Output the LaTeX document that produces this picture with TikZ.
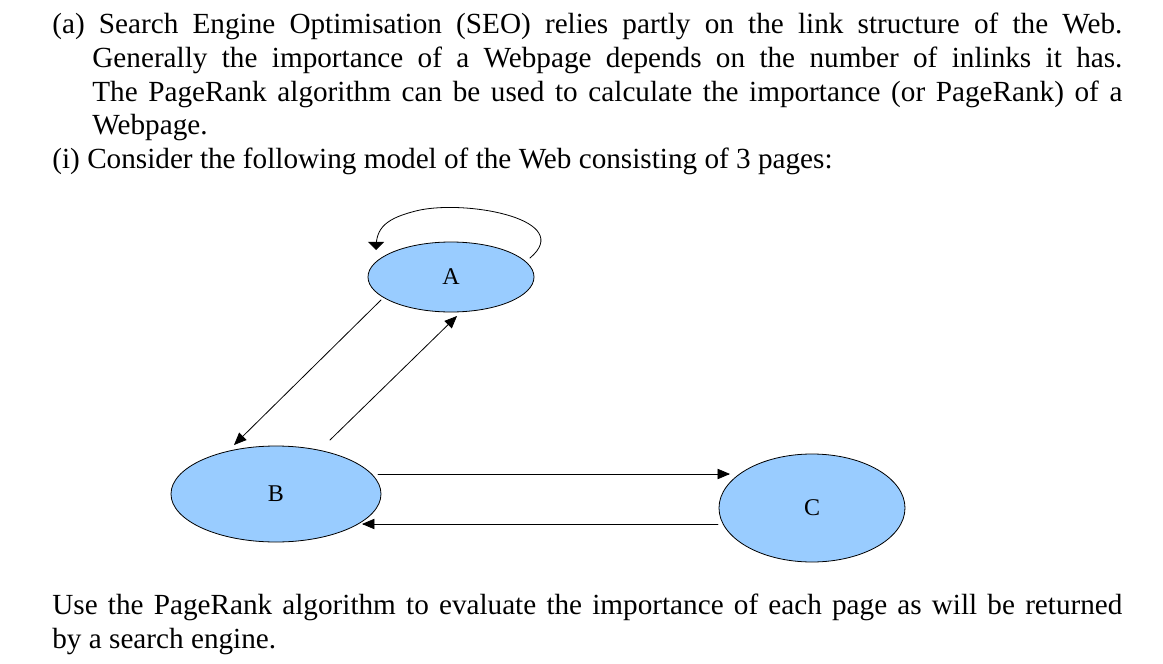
\documentclass[tikz,border=0pt]{standalone}
\usepackage{fontspec}
\setmainfont{Liberation Serif}
\usetikzlibrary{arrows,shapes.geometric}
\tikzset{page/.style={ellipse,draw,fill=pageblue,font=\fontsize{12}{14}\selectfont},
  txt/.style={anchor=north west,inner sep=0pt,align=justify,text width=535pt,font=\fontsize{14.6}{16.8}\selectfont}}
\definecolor{pageblue}{RGB}{153,204,255}
\begin{document}
\begin{tikzpicture}[line cap=round,line join=round,>=triangle 45,x=0.5pt,y=-0.5pt]
\useasboundingbox (0,0) rectangle (1163,664);
\node[txt] (intro) at (52,13) {\hyphenpenalty=10000\hangindent=20pt\hangafter=1
(a) Search Engine Optimisation (SEO) relies partly on the link structure of the Web.\linebreak
Generally the importance of a Webpage depends on the number of inlinks it has.\linebreak
The PageRank algorithm can be used to calculate the importance (or PageRank) of a\linebreak
Webpage.\par
(i) Consider the following model of the Web consisting of 3 pages:};
\node[page,minimum width=83pt,minimum height=35pt] (A) at (451,277) {A};
\node[page,minimum width=105pt,minimum height=48pt] (B) at (276,494) {B};
\node[page,minimum width=93pt,minimum height=54pt] (C) at (812,508) {C};
\coordinate (a1) at (381,300);
\coordinate (b1) at (234,445);
\coordinate (b2) at (330,440);
\coordinate (a2) at (457,316);
\coordinate (b3) at (378,474);
\coordinate (c1) at (730,474);
\coordinate (c2) at (718,524);
\coordinate (b4) at (362,524);
\coordinate (l1) at (530,258);
\coordinate (l2) at (376,250);
\draw [->] (a1) -- (b1);
\draw [->] (b2) -- (a2);
\draw [->] (b3) -- (c1);
\draw [->] (c2) -- (b4);
\draw [-{triangle 90}] (l1) .. controls (575,220) and (470,200) .. (420,210) .. controls (385,218) and (376,228) .. (l2);
\node[txt] (task) at (52,594) {\hyphenpenalty=10000
Use the PageRank algorithm to evaluate the importance of each page as will be returned\linebreak
by a search engine.};
\end{tikzpicture}
\end{document}
